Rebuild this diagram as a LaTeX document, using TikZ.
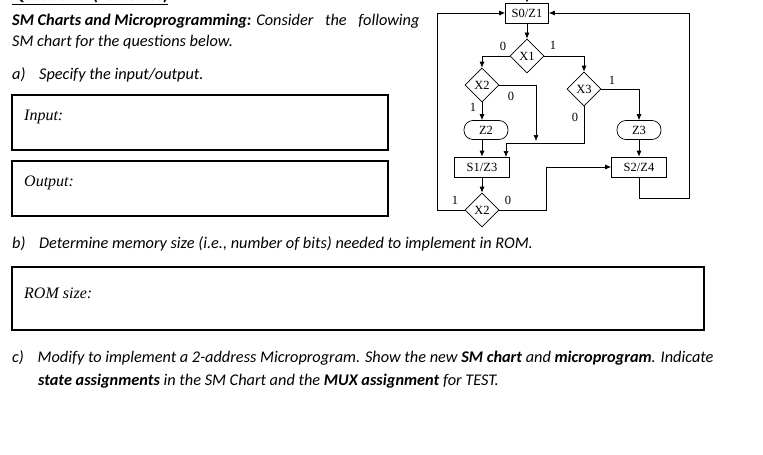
\documentclass[tikz,border=0pt]{standalone}
\usepackage{fontspec}
\setmainfont{Carlito}
\newfontfamily\tms{Liberation Serif}
\usetikzlibrary{shapes.geometric,arrows.meta}
\begin{document}
\begin{tikzpicture}[x=1pt,y=-1pt,
  txt/.style={anchor=west,inner sep=0pt,font=\fontsize{16.3}{18}\selectfont\itshape},
  ans/.style={draw,line width=1.2pt},
  lab/.style={inner sep=0pt,font=\tms\fontsize{16}{18}\selectfont\itshape},
  st/.style={draw,line width=0.7pt,rectangle,minimum height=20pt,inner sep=1pt,font=\tms\fontsize{12.5}{13}\selectfont},
  dec/.style={draw,line width=0.7pt,diamond,minimum width=34pt,minimum height=34pt,inner sep=0pt,font=\tms\fontsize{12.5}{13}\selectfont},
  cond/.style={draw,line width=0.7pt,rounded corners=9pt,minimum width=44pt,minimum height=19pt,inner sep=0pt,font=\tms\fontsize{12.5}{13}\selectfont},
  ar/.style={line width=0.7pt,-{Latex[length=6pt,width=5pt]}},
  bl/.style={font=\tms\fontsize{12.5}{13}\selectfont,inner sep=0pt}]
\useasboundingbox (0,0) rectangle (763,455);
\begin{scope}
\clip (0,0) rectangle (763,455);
\node[anchor=west,inner sep=0pt,font=\fontsize{17}{19}\selectfont\bfseries] (ttl) at (12,-4) {\underline{Question 1 (25 Points)}};
\end{scope}
\node[txt] (t1) at (12,21) {\textbf{SM Charts and Microprogramming:} Consider\hspace{8pt} the\hspace{8pt} following};
\node[txt] (t2) at (12,42) {SM chart for the questions below.};
\node[txt] (t3) at (12,75) {a)\hspace{10pt} Specify the input/output.};
\draw[ans] (12,95) rectangle (388,150);
\node[lab,anchor=west] (in) at (24,117) {Input:};
\draw[ans] (12,161) rectangle (388,216);
\node[lab,anchor=west] (out) at (24,183) {Output:};
\node[txt] (t4) at (12,244) {b)\hspace{10pt} Determine memory size (i.e., number of bits) needed to implement in ROM.};
\draw[ans] (12,267) rectangle (704,330);
\node[lab,anchor=west] (rom) at (24,293) {ROM size:};
\node[txt] (t5) at (12,358) {c)\hspace{10pt} Modify to implement a 2-address Microprogram. Show the new \textbf{SM chart} and \textbf{microprogram}. Indicate};
\node[txt] (t6) at (38,381) {\textbf{state assignments} in the SM Chart and the \textbf{MUX assignment} for TEST.};
% SM chart
\node[st,minimum width=43pt] (s0) at (527,13) {S0/Z1};
\node[dec] (x1) at (527,56) {X1};
\node[dec] (x2a) at (482,85) {X2};
\node[dec] (x3) at (584,89) {X3};
\node[cond] (z2) at (486,130) {Z2};
\node[cond] (z3) at (639,130) {Z3};
\node[st,minimum width=55pt] (s1) at (482,167) {S1/Z3};
\node[st,minimum width=55pt] (s2) at (639,167) {S2/Z4};
\node[dec] (x2b) at (482,210) {X2};
\coordinate (top) at (527,0);
\draw[ar] (top) -- (s0);
\draw[ar] (s0) -- (x1);
\draw[ar] (x1.west) -| (x2a.north);
\draw[ar] (x1.east) -| (x3.north);
\draw[ar] (x2a.east) -| (536,141);
\draw[ar] (x2a.south) -- (x2a.south |- z2.north);
\draw[ar] (x3.south) |- (506,143) -- (506,157);
\draw[ar] (x3.east) -| (z3.north);
\draw[ar] (x2a.south |- z2.south) -- (s1);
\draw[ar] (z3) -- (s2);
\draw[ar] (s1) -- (x2b);
\draw[ar] (x2b.east) -| (546,167) -- (s2.west);
\draw[ar] (x2b.west) -| (437,13) -- (s0.west);
\draw[ar] (s2.south) |- (689,198) |- (s0.east);
\node[bl] (l1) at (503,46) {0};
\node[bl] (l2) at (553,45) {1};
\node[bl] (l3) at (511,96) {0};
\node[bl] (l4) at (473,107) {1};
\node[bl] (l5) at (575,117) {0};
\node[bl] (l6) at (612,80) {1};
\node[bl] (l7) at (455,200) {1};
\node[bl] (l8) at (508,200) {0};
\end{tikzpicture}
\end{document}
